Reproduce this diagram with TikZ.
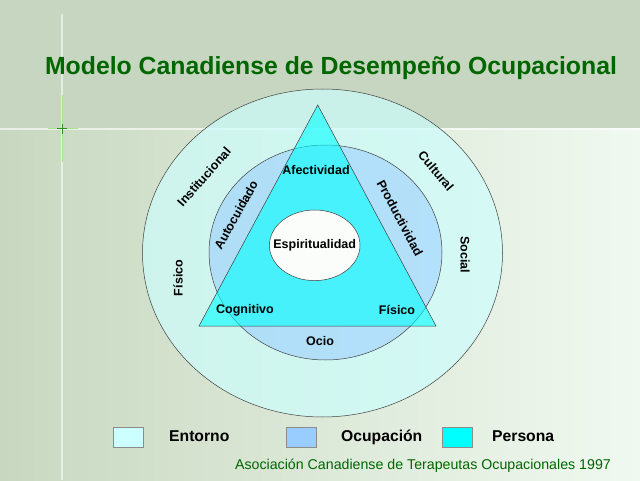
\documentclass[tikz,border=0pt]{standalone}
\usepackage{fontspec}
\setmainfont{Liberation Sans}
\usepackage{tikz}
\usetikzlibrary{shapes.geometric,positioning}
\definecolor{titlegreen}{HTML}{006600}
\definecolor{bgtop}{HTML}{C6D6C0}
\definecolor{bgleft}{HTML}{C8D8C0}
\definecolor{bgright}{HTML}{F0F9F0}
\definecolor{entorno}{HTML}{CCFFFF}
\definecolor{ocupacion}{HTML}{99CCFF}
\definecolor{persona}{HTML}{00FFFF}
\definecolor{glow}{HTML}{A8E48A}
\tikzset{
  ring/.style = {ellipse, draw=black!75, line width=0.5pt, inner sep=0pt},
  lbl/.style = {font=\fontsize{12.5}{14}\selectfont\bfseries, inner sep=1pt},
  keybox/.style = {rectangle, draw=black!45, line width=0.6pt, minimum width=30pt, minimum height=20pt, inner sep=0pt},
  keytext/.style = {font=\fontsize{15.7}{18}\selectfont\bfseries, anchor=base west, inner sep=0pt}
}
\begin{document}
\begin{tikzpicture}[x=1pt, y=1pt]
\useasboundingbox (0,0) rectangle (640,480);
\fill[bgtop] (0,351) rectangle (640,480);
\shade[left color=bgleft, right color=bgright] (0,0) rectangle (640,351);
\draw[white, opacity=0.6, line width=1.2pt] (0,351) -- (640,351);
\draw[white, opacity=0.55, line width=1.2pt] (62,466) -- (62,0);
\draw[glow, line width=1pt] (48,351) -- (78,351);
\draw[glow, line width=1pt] (62,318) -- (62,385);
\draw[green!40!black, opacity=0.7, line width=1pt] (57,351) -- (67,351) (62,346) -- (62,356);

\node[font=\fontsize{24.8}{28}\selectfont\bfseries, text=titlegreen, anchor=base] (title) at (331,405) {Modelo Canadiense de Desempeño Ocupacional};

\node[ring, fill=entorno, fill opacity=0.65, minimum width=360pt, minimum height=328pt] (env) at (322.5,227) {};
\node[ring, fill=ocupacion, fill opacity=0.55, minimum width=233pt, minimum height=215pt] (occ) at (325.5,227.5) {};
\coordinate (top) at (317.7,375);
\coordinate (bl) at (199,154);
\coordinate (br) at (436,154);
\draw[black!75, line width=0.5pt, fill=persona, fill opacity=0.6] (top) -- (bl) -- (br) -- cycle;
\node[ring, fill=white!70!bgright, minimum width=90.6pt, minimum height=70.6pt] (spirit) at (314.7,234.7) {};

\node[lbl] (esp) at (spirit) {Espiritualidad};
\node[lbl] (afe) at (316,310) {Afectividad};
\node[lbl] (cog) at (245,170) {Cognitivo};
\node[lbl] (fis) at (397,170) {Físico};
\node[lbl, rotate=61] (auto) at (236,265) {Autocuidado};
\node[lbl, rotate=-62] (prod) at (400,262) {Productividad};
\node[lbl] (ocio) at (320,139) {Ocio};
\node[lbl, rotate=48.5] (inst) at (204,303) {Institucional};
\node[lbl, rotate=-50] (cult) at (436,309) {Cultural};
\node[lbl, rotate=-90] (soc) at (465,225) {Social};
\node[lbl, rotate=90] (fisenv) at (178,202) {Físico};

\node[keybox, fill=entorno] (kenv) at (128,43) {};
\node[keybox, fill=ocupacion] (kocc) at (301,43) {};
\node[keybox, fill=persona] (kper) at (457,43) {};
\node[keytext] (tenv) at (169,38.5) {Entorno};
\node[keytext] (tocc) at (341,38.5) {Ocupación};
\node[keytext] (tper) at (492,38.5) {Persona};

\node[font=\fontsize{14.2}{16}\selectfont, text=titlegreen] (cite) at (423,14) {Asociación Canadiense de Terapeutas Ocupacionales 1997};
\end{tikzpicture}
\end{document}
